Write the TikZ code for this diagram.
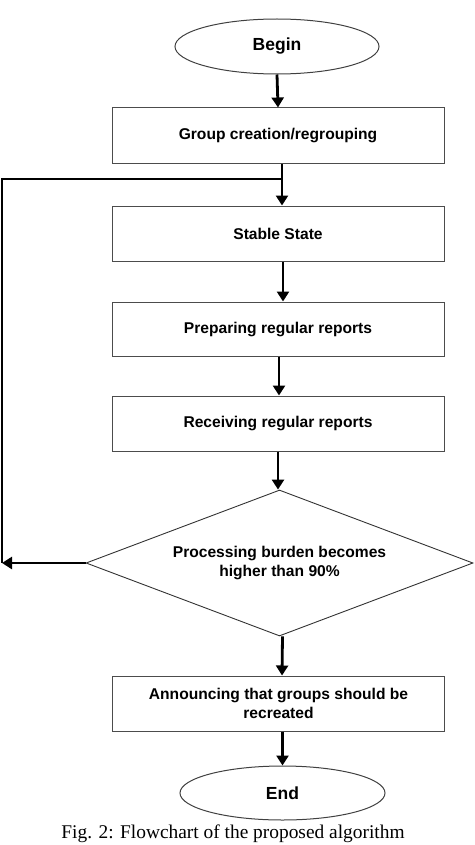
\documentclass[tikz,border=0pt]{standalone}
\usepackage{fontspec}
\setmainfont{Liberation Serif}
\setsansfont{Liberation Sans}
\usetikzlibrary{arrows.meta,shapes.geometric}
\begin{document}
\begin{tikzpicture}[x=1pt,y=-1pt,
  procbox/.style={draw=black!70,line width=1pt,minimum width=332pt,inner sep=0pt,align=center,
    font=\sffamily\bfseries\fontsize{15.6}{19}\selectfont},
  termnode/.style={ellipse,draw=black!75,line width=1pt,inner sep=0pt,
    font=\sffamily\bfseries\fontsize{17.5}{20}\selectfont},
  decnode/.style={diamond,draw=black!80,line width=0.9pt,minimum width=387pt,minimum height=146pt,
    aspect=2.6,inner sep=0pt,align=center,font=\sffamily\bfseries\fontsize{15.6}{19.5}\selectfont},
  arr/.style={line width=2.8pt,-{Triangle[length=10pt,width=12pt]}},
  fbline/.style={line width=2.8pt}]
\useasboundingbox (0,0) rectangle (474,845);
\node[termnode,minimum width=204pt,minimum height=55pt] (begin) at (277,46.5) {Begin};
\node[procbox,minimum height=56pt] (b1) at (278,136) {Group creation/regrouping};
\node[procbox,minimum height=55pt] (b2) at (278,233.5) {Stable State};
\node[procbox,minimum height=54pt] (b3) at (278,329) {Preparing regular reports};
\node[procbox,minimum height=55pt] (b4) at (278,423.5) {Receiving regular reports};
\node[decnode] (d) at (279.5,563) {Processing burden becomes\\higher than 90\%};
\node[procbox,minimum height=55pt] (b6) at (278.5,703.5) {Announcing that groups should be\\recreated};
\node[termnode,minimum width=205pt,minimum height=54pt] (end) at (282.5,793) {End};
\node[anchor=base,inner sep=0pt,font=\fontsize{19.4}{22}\selectfont] (cap) at (233,838) {Fig. 2: Flowchart of the proposed algorithm};
\coordinate (j) at (282,179);
\coordinate (fb) at (2,563);
\draw[arr] (begin.south) -- (b1.north);
\draw[arr] ([xshift=4pt]b1.south) -- ([xshift=4pt]b2.north);
\draw[arr] ([xshift=5pt]b2.south) -- ([xshift=5pt]b3.north);
\draw[arr] ([xshift=1pt]b3.south) -- ([xshift=1pt]b4.north);
\draw[arr] (b4.south) -- (b4.south |- d.north);
\draw[arr] ([xshift=3pt]d.south) -- ([xshift=3.5pt]b6.south |- b6.north);
\draw[arr] ([xshift=4pt]b6.south) -- ([xshift=4pt]b6.south |- end.north);
\draw[fbline] (j) -| (fb);
\draw[arr] (d.west) -- (fb);
\end{tikzpicture}
\end{document}
